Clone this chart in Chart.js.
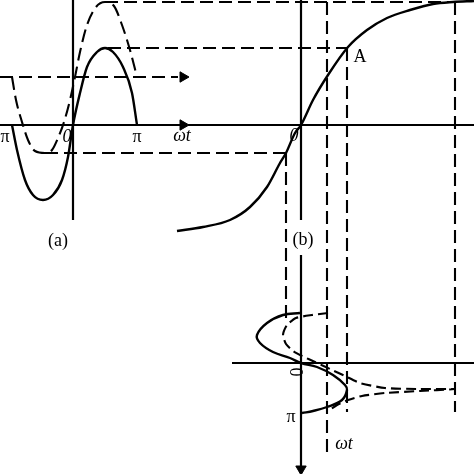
<!DOCTYPE html>
<html>
<head>
<meta charset="utf-8">
<script src="https://cdn.jsdelivr.net/npm/chart.js@4"></script>
<style>
  html, body { margin: 0; padding: 0; background: #fff; }
  #wrap { width: 474px; height: 474px; }
</style>
</head>
<body>
<div id="wrap"><canvas id="chart" width="474" height="474"></canvas></div>
<script>
// all values in drawing units (0..474, y grows downward)

// (a) input waveforms
const inputSolid = [[12,125],[17,150],[25,180],[33,195],[43,200],[53,195],[62,180],[68,157],[73,125],[80,93],[87,67],[97,52],[105,48],[113,52],[123,67],[132,93],[137,125]];
const inputDashed = [[12,77],[16,100],[22,122],[28,140],[35,151],[45,153],[52,150],[58,138],[64,122],[70,100],[75,77],[80,52],[87,25],[96,7],[105,2],[114,6],[122,25],[130,50],[137,77]];

// (b) transfer characteristic
const transferCurve = [[177,231],[203,227],[230,220],[250,207],[267,187],[280,163],[286,153],[295,133],[301,125],[313,100],[328,75],[348,47],[367,30],[387,18],[410,10],[433,4],[453,2],[474,1]];

// (c) output waveforms
const outputSolid = [[300,313],[283,315],[267,323],[257,335],[260,343],[273,352],[290,358],[301,363],[317,367],[333,375],[345,385],[347,390],[342,400],[327,407],[313,411],[302,413]];
const outputDashed = [[328,313],[312,315],[296,318],[287,325],[283,335],[286,344],[293,351],[302,356],[315,362],[330,369],[345,376],[360,383],[385,388],[420,389],[455,389],[420,391],[385,393],[362,396],[348,400],[337,405],[328,411]];

// axes
const solidSegments = [
  [[0,125],[180,125]],
  [[73,0],[73,220]],
  [[188,125],[474,125]],
  [[301,0],[301,220]],
  [[232,363],[474,363]],
  [[301,255],[301,466]]
];
// projection lines
const dashedSegments = [
  [[0,77],[178,77]],
  [[105,2],[455,2]],
  [[108,48],[347,48]],
  [[45,153],[286,153]],
  [[286,153],[286,318]],
  [[327,2],[327,457]],
  [[347,48],[347,412]],
  [[455,2],[455,412]]
];
const arrowHeads = [[183,125],[183,77],[301,469]];
const arrowAngles = [90, 90, 180];

const labels = [
  ['π', 5, 137, false, 0],
  ['0', 67, 137, true, 0],
  ['π', 137, 137, false, 0],
  ['ωt', 182, 136, true, 0],
  ['(a)', 58, 241, false, 0],
  ['A', 360, 57, false, 0],
  ['0', 294, 136, true, 0],
  ['(b)', 303, 240, false, 0],
  ['0', 295, 372, false, 90],
  ['π', 291, 417, false, 0],
  ['ωt', 344, 444, true, 0]
];

const toPts = arr => arr.map(p => ({x: p[0], y: p[1]}));

const datasets = [];
solidSegments.forEach(s => datasets.push({ data: toPts(s), borderColor: '#000', borderWidth: 2.2, showLine: true, pointRadius: 0 }));
dashedSegments.forEach(s => datasets.push({ data: toPts(s), borderColor: '#000', borderWidth: 2.1, borderDash: [13, 6], showLine: true, pointRadius: 0 }));
datasets.push({ data: toPts(inputSolid), borderColor: '#000', borderWidth: 2.4, showLine: true, pointRadius: 0, cubicInterpolationMode: 'monotone' });
datasets.push({ data: toPts(inputDashed), borderColor: '#000', borderWidth: 2.1, borderDash: [13, 6], showLine: true, pointRadius: 0, cubicInterpolationMode: 'monotone' });
datasets.push({ data: toPts(transferCurve), borderColor: '#000', borderWidth: 2.4, showLine: true, pointRadius: 0, cubicInterpolationMode: 'monotone' });
datasets.push({ data: toPts(outputSolid), borderColor: '#000', borderWidth: 2.4, showLine: true, pointRadius: 0, tension: 0.4 });
datasets.push({ data: toPts(outputDashed), borderColor: '#000', borderWidth: 2.1, borderDash: [10, 5], showLine: true, pointRadius: 0, tension: 0.2 });
datasets.push({ data: toPts(arrowHeads), showLine: false, pointStyle: 'triangle', pointRadius: 6, pointRotation: arrowAngles, backgroundColor: '#000', borderColor: '#000', borderWidth: 1 });
datasets.forEach(d => { d.clip = false; });

const textPlugin = {
  id: 'texts',
  afterDatasetsDraw(chart) {
    const ctx = chart.ctx, xs = chart.scales.x, ys = chart.scales.y;
    ctx.save();
    ctx.fillStyle = '#000';
    ctx.textAlign = 'center';
    ctx.textBaseline = 'middle';
    labels.forEach(l => {
      ctx.save();
      ctx.font = (l[3] ? 'italic ' : '') + '18px "Liberation Serif", "DejaVu Serif", serif';
      ctx.translate(xs.getPixelForValue(l[1]), ys.getPixelForValue(l[2]));
      ctx.rotate(l[4] * Math.PI / 180);
      ctx.fillText(l[0], 0, 0);
      ctx.restore();
    });
    ctx.restore();
  }
};

new Chart(document.getElementById('chart').getContext('2d'), {
  type: 'scatter',
  data: { datasets: datasets },
  options: {
    responsive: false,
    animation: false,
    layout: { padding: 0, autoPadding: false },
    plugins: { legend: { display: false }, tooltip: { enabled: false } },
    scales: {
      x: { type: 'linear', min: 0, max: 474, display: false },
      y: { type: 'linear', min: 0, max: 474, reverse: true, display: false }
    }
  },
  plugins: [textPlugin]
});
</script>
</body>
</html>
